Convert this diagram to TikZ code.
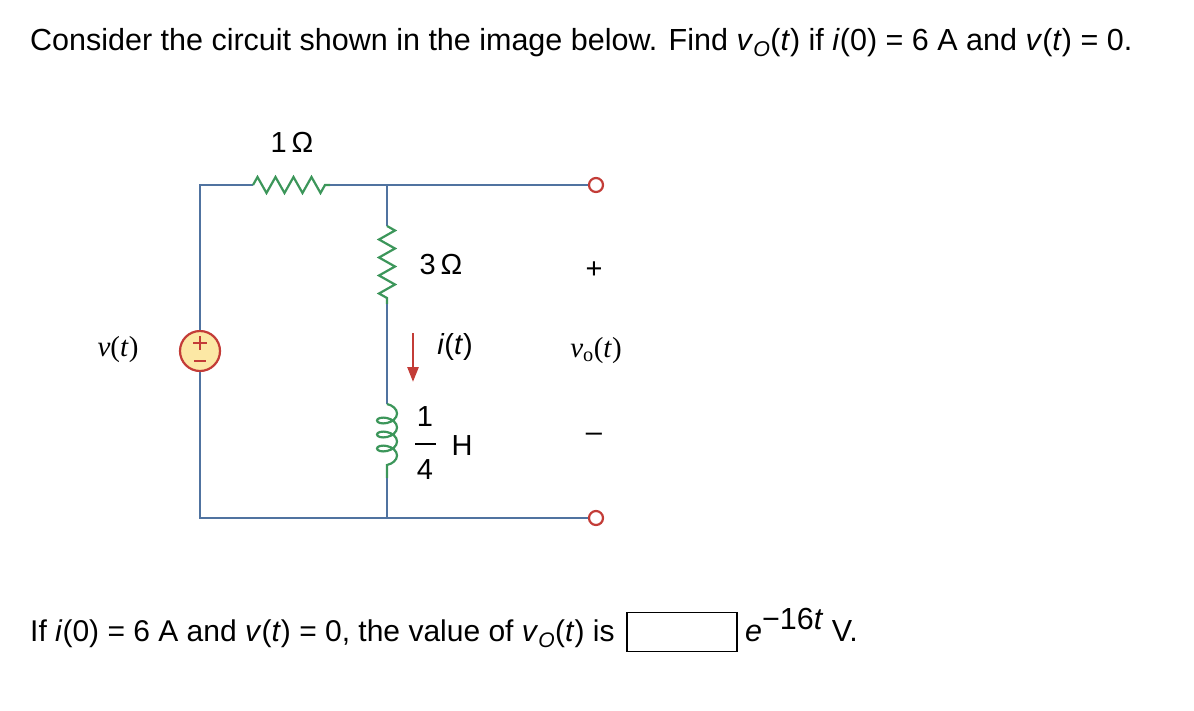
\documentclass[tikz,border=0pt]{standalone}
\usepackage{fontspec}
\setmainfont{Liberation Sans}
\newfontfamily\serfont{Liberation Serif}
\usetikzlibrary{decorations.pathmorphing,arrows.meta}
\definecolor{wire}{RGB}{80,115,160}
\definecolor{grn}{RGB}{60,150,90}
\definecolor{rd}{RGB}{195,60,55}
\definecolor{yel}{RGB}{252,232,165}
\tikzset{w/.style={wire,line width=2.4pt},
 res/.style={grn,line width=2.2pt,decorate,decoration={zigzag,amplitude=8pt,segment length=18pt}},
 ind/.style={grn,line width=2.2pt,decorate,decoration={coil,amplitude=10pt,segment length=14pt,aspect=0.6}},
 term/.style={circle,draw=rd,line width=2.2pt,fill=white,inner sep=0pt,minimum size=14pt},
 lbl/.style={font=\fontsize{30.5}{34}\selectfont},
 clbl/.style={font=\fontsize{29}{32}\selectfont}}
\begin{document}
\begin{tikzpicture}[x=1pt,y=-1pt]
\useasboundingbox (0,0) rectangle (1194,710);
\node[lbl,anchor=base west,inner sep=0pt] (title) at (30,50) {Consider the circuit shown in the image below. Find \textit{v}\textsubscript{\textit{O}}(\textit{t}) if \textit{i}(0) = 6 A and \textit{v}(\textit{t}) = 0.};
\coordinate (tl) at (200,185); \coordinate (bl) at (200,518);
\coordinate (tm) at (387,185); \coordinate (bm) at (387,518);
\node[circle,draw=rd,fill=yel,line width=2.2pt,minimum size=40pt,inner sep=0pt] (src) at (200,351) {};
\draw[rd,line width=2pt] (193,343) -- (207,343) (200,336) -- (200,350) (194,361) -- (206,361);
\coordinate (r1a) at (253,185); \coordinate (r1b) at (330,185);
\coordinate (r3a) at (387,226); \coordinate (r3b) at (387,304);
\coordinate (l1a) at (387,404); \coordinate (l1b) at (387,478);
\node[term] (ot) at (596,185) {};
\node[term] (ob) at (596,518) {};
\draw[w] (src.north) -- (tl) -- (r1a);
\draw[res] (r1a) -- (r1b);
\draw[w] (r1b) -- (ot.west);
\draw[w] (tm) -- (r3a);
\draw[res] (r3a) -- (r3b);
\draw[w] (r3b) -- (l1a);
\draw[ind] (l1a) -- (l1b);
\draw[w] (l1b) -- (bm);
\draw[rd,line width=2.6pt,-{Triangle[length=15pt,width=11pt]}] (413,333) -- (413,382);
\draw[w] (src.south) -- (bl) -- (ob.west);
\node[clbl] (r1) at (292,142) {1\,Ω};
\node[clbl] (r3) at (441,265) {3\,Ω};
\node[clbl,font=\fontsize{29}{32}\selectfont\serfont] (vt) at (118,350) {\textit{v}(\textit{t})};
\node[clbl] (it) at (455,347) {\textit{i}(\textit{t})};
\node[clbl] (vo) at (596,351) {\serfont\textit{v}\textsubscript{o}(\textit{t})};
\node[clbl] (pl) at (594,270) {+};
\node[clbl] (mi) at (594,437) {--};
\node[clbl] (fn) at (425,417) {1};
\draw[line width=1.4pt] (415,444) -- (436,444);
\node[clbl] (fd) at (425,470) {4};
\node[clbl] (h) at (462,446) {H};
\node[lbl,anchor=base west,inner sep=0pt,font=\fontsize{30}{34}\selectfont] (q) at (30,641) {If \textit{i}(0) = 6 A and \textit{v}(\textit{t}) = 0, the value of \textit{v}\textsubscript{\textit{O}}(\textit{t}) is};
\node[draw,line width=1.2pt,minimum width=110pt,minimum height=39pt,inner sep=0pt] (box) at (682,632) {};
\node[lbl,anchor=base west,inner sep=0pt] (ans) at (745,641) {\textit{e}\raisebox{12pt}{\textminus16\textit{t}} V.};
\end{tikzpicture}
\end{document}
